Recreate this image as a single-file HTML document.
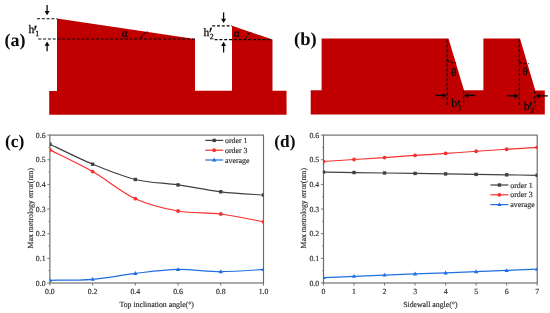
<!DOCTYPE html>
<html><head><meta charset="utf-8"><title>figure</title>
<style>
html,body{margin:0;padding:0;background:#fff;}
body{width:550px;height:313px;overflow:hidden;font-family:"Liberation Serif",serif;}
svg{display:block;font-family:"Liberation Serif",serif;text-rendering:geometricPrecision;}
</style></head><body>
<svg width="550" height="313" viewBox="0 0 550 313">
<rect x="0" y="0" width="550" height="313" fill="#ffffff"/>

<polygon fill="#c00000" points="57,18.4 195,39 195,90.7 232,90.7 232,25.8 272.5,39.5 272.5,90.7 286.5,90.7 286.6,114.7 49.2,114.7 49.2,91.1 57,91.1"/>
<polygon fill="#c00000" points="321.6,38.5 448.5,38.5 464,90.2 483.4,90.2 483.4,38.5 520,38.5 535.3,90.5 544.8,90.5 544.8,114.5 310.7,114.5 310.7,90.2 321.6,90.2"/>
<line x1="37" y1="18.7" x2="57" y2="18.7" stroke="#0a0a0a" stroke-width="1.15" stroke-dasharray="3,1.8" fill="none"/>
<line x1="38.3" y1="39" x2="195" y2="39" stroke="#0a0a0a" stroke-width="1.15" stroke-dasharray="3,1.8" fill="none"/>
<line x1="212.2" y1="25.8" x2="232" y2="25.8" stroke="#0a0a0a" stroke-width="1.15" stroke-dasharray="3,1.8" fill="none"/>
<line x1="214.6" y1="39.6" x2="272" y2="39.6" stroke="#0a0a0a" stroke-width="1.15" stroke-dasharray="3,1.8" fill="none"/>
<line x1="47.1" y1="4.9" x2="47.1" y2="13.3" stroke="#0a0a0a" stroke-width="1.3"/><polygon fill="#0a0a0a" points="44.6,11.100000000000001 49.6,11.100000000000001 47.1,15.3"/>
<line x1="47.1" y1="51.2" x2="47.1" y2="43.6" stroke="#0a0a0a" stroke-width="1.3"/><polygon fill="#0a0a0a" points="44.6,45.800000000000004 49.6,45.800000000000004 47.1,41.6"/>
<line x1="223.6" y1="12.4" x2="223.6" y2="21" stroke="#0a0a0a" stroke-width="1.3"/><polygon fill="#0a0a0a" points="221.1,18.8 226.1,18.8 223.6,23"/>
<line x1="223.6" y1="52.5" x2="223.6" y2="43.8" stroke="#0a0a0a" stroke-width="1.3"/><polygon fill="#0a0a0a" points="221.1,46.0 226.1,46.0 223.6,41.8"/>
<text x="4.5" y="45.5" font-size="18" font-weight="bold" fill="#0a0a0a">(a)</text>
<text x="28.5" y="33.3" font-size="11.6" fill="#0a0a0a" stroke="#0a0a0a" stroke-width="0.25">h</text><text x="33.5" y="38.1" font-size="18.5" fill="#0a0a0a" stroke="#0a0a0a" stroke-width="0.25">′</text><text x="35.2" y="35.8" font-size="7.8" fill="#0a0a0a" stroke="#0a0a0a" stroke-width="0.25">1</text>
<text x="203.4" y="36.1" font-size="11.5" fill="#0a0a0a" stroke="#0a0a0a" stroke-width="0.25">h</text><text x="208.8" y="39.8" font-size="18.5" fill="#0a0a0a" stroke="#0a0a0a" stroke-width="0.25">′</text><text x="209.7" y="39.4" font-size="7.8" fill="#0a0a0a" stroke="#0a0a0a" stroke-width="0.25">2</text>
<text x="121.7" y="36.5" font-size="11.5" fill="#0a0a0a" stroke="#0a0a0a" stroke-width="0.25">α</text>
<text x="233.7" y="36.9" font-size="11.5" fill="#0a0a0a" stroke="#0a0a0a" stroke-width="0.25">α</text>
<path d="M140.5,38.8 Q142.5,33.5 147.8,31.7" stroke="#0a0a0a" stroke-width="1.15" stroke-dasharray="3.6,1.2" fill="none"/>
<path d="M244.9,39.5 Q246.5,34.5 251.6,32.2" stroke="#0a0a0a" stroke-width="1.15" stroke-dasharray="3.6,1.2" fill="none"/>
<text x="294" y="45.4" font-size="18.5" font-weight="bold" fill="#0a0a0a">(b)</text>
<line x1="447.1" y1="39.5" x2="447.1" y2="106" stroke="#0a0a0a" stroke-width="1.15" stroke-dasharray="3,1.8" fill="none"/>
<line x1="463.7" y1="91" x2="463.7" y2="107" stroke="#0a0a0a" stroke-width="1.15" stroke-dasharray="3,1.8" fill="none"/>
<line x1="519.3" y1="39.5" x2="519.3" y2="106" stroke="#0a0a0a" stroke-width="1.15" stroke-dasharray="3,1.8" fill="none"/>
<line x1="534.8" y1="91" x2="534.8" y2="106.5" stroke="#0a0a0a" stroke-width="1.15" stroke-dasharray="3,1.8" fill="none"/>
<line x1="435.4" y1="95.4" x2="444.8" y2="95.4" stroke="#0a0a0a" stroke-width="1.3"/><polygon fill="#0a0a0a" points="442.6,92.9 442.6,97.9 446.8,95.4"/>
<line x1="475.4" y1="95.4" x2="466.3" y2="95.4" stroke="#0a0a0a" stroke-width="1.3"/><polygon fill="#0a0a0a" points="468.5,92.9 468.5,97.9 464.3,95.4"/>
<line x1="507.2" y1="95.9" x2="516.6" y2="95.9" stroke="#0a0a0a" stroke-width="1.3"/><polygon fill="#0a0a0a" points="514.4,93.4 514.4,98.4 518.6,95.9"/>
<line x1="547.8" y1="95.9" x2="537.6" y2="95.9" stroke="#0a0a0a" stroke-width="1.3"/><polygon fill="#0a0a0a" points="539.8000000000001,93.4 539.8000000000001,98.4 535.6,95.9"/>
<path d="M446.9,58.9 Q449,63.2 456.2,62.8" stroke="#0a0a0a" stroke-width="1.15" stroke-dasharray="3.6,1.2" fill="none"/>
<path d="M519,61.5 Q521.5,64.2 528.7,63.6" stroke="#0a0a0a" stroke-width="1.15" stroke-dasharray="3.6,1.2" fill="none"/>
<text x="451.3" y="75.8" font-size="11" fill="#0a0a0a" stroke="#0a0a0a" stroke-width="0.25">θ</text>
<text x="522.5" y="75.3" font-size="11" fill="#0a0a0a" stroke="#0a0a0a" stroke-width="0.25">θ</text>
<text x="451.3" y="107.4" font-size="12" fill="#0a0a0a" stroke="#0a0a0a" stroke-width="0.25">b</text><text x="456.9" y="112.3" font-size="18" fill="#0a0a0a" stroke="#0a0a0a" stroke-width="0.25">′</text><text x="457.8" y="110.3" font-size="7.8" fill="#0a0a0a" stroke="#0a0a0a" stroke-width="0.25">1</text>
<text x="523.7" y="109.5" font-size="12" fill="#0a0a0a" stroke="#0a0a0a" stroke-width="0.25">b</text><text x="529" y="114.4" font-size="18" fill="#0a0a0a" stroke="#0a0a0a" stroke-width="0.25">′</text><text x="530.5" y="112.6" font-size="7.8" fill="#0a0a0a" stroke="#0a0a0a" stroke-width="0.25">2</text>
<rect x="49.9" y="135.1" width="213.6" height="147.9" fill="none" stroke="#6a6a6a" stroke-width="1.15"/>
<line x1="47.3" y1="283.00" x2="49.9" y2="283.00" stroke="#6a6a6a" stroke-width="0.9"/>
<text x="45.6" y="285.70" font-size="7.8" text-anchor="end" fill="#2a2a2a" stroke="#2a2a2a" stroke-width="0.15">0.0</text>
<line x1="48.4" y1="270.68" x2="49.9" y2="270.68" stroke="#6a6a6a" stroke-width="0.7"/>
<line x1="47.3" y1="258.35" x2="49.9" y2="258.35" stroke="#6a6a6a" stroke-width="0.9"/>
<text x="45.6" y="261.05" font-size="7.8" text-anchor="end" fill="#2a2a2a" stroke="#2a2a2a" stroke-width="0.15">0.1</text>
<line x1="48.4" y1="246.02" x2="49.9" y2="246.02" stroke="#6a6a6a" stroke-width="0.7"/>
<line x1="47.3" y1="233.70" x2="49.9" y2="233.70" stroke="#6a6a6a" stroke-width="0.9"/>
<text x="45.6" y="236.40" font-size="7.8" text-anchor="end" fill="#2a2a2a" stroke="#2a2a2a" stroke-width="0.15">0.2</text>
<line x1="48.4" y1="221.38" x2="49.9" y2="221.38" stroke="#6a6a6a" stroke-width="0.7"/>
<line x1="47.3" y1="209.05" x2="49.9" y2="209.05" stroke="#6a6a6a" stroke-width="0.9"/>
<text x="45.6" y="211.75" font-size="7.8" text-anchor="end" fill="#2a2a2a" stroke="#2a2a2a" stroke-width="0.15">0.3</text>
<line x1="48.4" y1="196.72" x2="49.9" y2="196.72" stroke="#6a6a6a" stroke-width="0.7"/>
<line x1="47.3" y1="184.40" x2="49.9" y2="184.40" stroke="#6a6a6a" stroke-width="0.9"/>
<text x="45.6" y="187.10" font-size="7.8" text-anchor="end" fill="#2a2a2a" stroke="#2a2a2a" stroke-width="0.15">0.4</text>
<line x1="48.4" y1="172.07" x2="49.9" y2="172.07" stroke="#6a6a6a" stroke-width="0.7"/>
<line x1="47.3" y1="159.75" x2="49.9" y2="159.75" stroke="#6a6a6a" stroke-width="0.9"/>
<text x="45.6" y="162.45" font-size="7.8" text-anchor="end" fill="#2a2a2a" stroke="#2a2a2a" stroke-width="0.15">0.5</text>
<line x1="48.4" y1="147.42" x2="49.9" y2="147.42" stroke="#6a6a6a" stroke-width="0.7"/>
<line x1="47.3" y1="135.10" x2="49.9" y2="135.10" stroke="#6a6a6a" stroke-width="0.9"/>
<text x="45.6" y="137.80" font-size="7.8" text-anchor="end" fill="#2a2a2a" stroke="#2a2a2a" stroke-width="0.15">0.6</text>
<line x1="49.90" y1="283" x2="49.90" y2="285.6" stroke="#6a6a6a" stroke-width="0.9"/>
<text x="49.90" y="293.5" font-size="7.8" text-anchor="middle" fill="#2a2a2a" stroke="#2a2a2a" stroke-width="0.15">0.0</text>
<line x1="92.62" y1="283" x2="92.62" y2="285.6" stroke="#6a6a6a" stroke-width="0.9"/>
<text x="92.62" y="293.5" font-size="7.8" text-anchor="middle" fill="#2a2a2a" stroke="#2a2a2a" stroke-width="0.15">0.2</text>
<line x1="135.34" y1="283" x2="135.34" y2="285.6" stroke="#6a6a6a" stroke-width="0.9"/>
<text x="135.34" y="293.5" font-size="7.8" text-anchor="middle" fill="#2a2a2a" stroke="#2a2a2a" stroke-width="0.15">0.4</text>
<line x1="178.06" y1="283" x2="178.06" y2="285.6" stroke="#6a6a6a" stroke-width="0.9"/>
<text x="178.06" y="293.5" font-size="7.8" text-anchor="middle" fill="#2a2a2a" stroke="#2a2a2a" stroke-width="0.15">0.6</text>
<line x1="220.78" y1="283" x2="220.78" y2="285.6" stroke="#6a6a6a" stroke-width="0.9"/>
<text x="220.78" y="293.5" font-size="7.8" text-anchor="middle" fill="#2a2a2a" stroke="#2a2a2a" stroke-width="0.15">0.8</text>
<line x1="263.50" y1="283" x2="263.50" y2="285.6" stroke="#6a6a6a" stroke-width="0.9"/>
<text x="263.50" y="293.5" font-size="7.8" text-anchor="middle" fill="#2a2a2a" stroke="#2a2a2a" stroke-width="0.15">1.0</text>
<text x="156.7" y="306.6" font-size="7.8" text-anchor="middle" fill="#2a2a2a" stroke="#2a2a2a" stroke-width="0.15">Top inclination angle(°)</text>
<text transform="translate(32.5,208.25) rotate(-90)" font-size="7.8" text-anchor="middle" fill="#2a2a2a" stroke="#2a2a2a" stroke-width="0.15">Max metrology error(nm)</text>
<clipPath id="clipc"><rect x="49.9" y="135.1" width="213.6" height="147.9"/></clipPath><g clip-path="url(#clipc)">
<path d="M49.90,144.22 C57.02,147.55 78.38,158.31 92.62,164.19 C106.86,170.06 121.10,176.02 135.34,179.47 C149.58,182.92 163.82,182.84 178.06,184.89 C192.30,186.95 206.54,190.11 220.78,191.79 C235.02,193.48 256.38,194.47 263.50,195.00" fill="none" stroke="#404040" stroke-width="1.2"/>
<rect x="48.20" y="142.52" width="3.4" height="3.4" fill="#404040"/>
<rect x="90.92" y="162.49" width="3.4" height="3.4" fill="#404040"/>
<rect x="133.64" y="177.77" width="3.4" height="3.4" fill="#404040"/>
<rect x="176.36" y="183.19" width="3.4" height="3.4" fill="#404040"/>
<rect x="219.08" y="190.09" width="3.4" height="3.4" fill="#404040"/>
<rect x="261.80" y="193.30" width="3.4" height="3.4" fill="#404040"/>
<path d="M49.90,149.89 C57.02,153.51 78.38,163.45 92.62,171.58 C106.86,179.72 121.10,192.12 135.34,198.70 C149.58,205.27 163.82,208.47 178.06,211.02 C192.30,213.57 206.54,212.17 220.78,213.98 C235.02,215.79 256.38,220.55 263.50,221.87" fill="none" stroke="#f83030" stroke-width="1.2"/>
<circle cx="49.90" cy="149.89" r="1.9" fill="#f83030"/>
<circle cx="92.62" cy="171.58" r="1.9" fill="#f83030"/>
<circle cx="135.34" cy="198.70" r="1.9" fill="#f83030"/>
<circle cx="178.06" cy="211.02" r="1.9" fill="#f83030"/>
<circle cx="220.78" cy="213.98" r="1.9" fill="#f83030"/>
<circle cx="263.50" cy="221.87" r="1.9" fill="#f83030"/>
<path d="M49.90,280.29 C57.02,280.12 78.38,280.45 92.62,279.30 C106.86,278.15 121.10,275.03 135.34,273.39 C149.58,271.74 163.82,269.73 178.06,269.44 C192.30,269.15 206.54,271.66 220.78,271.66 C235.02,271.66 256.38,269.81 263.50,269.44" fill="none" stroke="#1f6fe0" stroke-width="1.2"/>
<polygon points="47.70,281.79 52.10,281.79 49.90,277.99" fill="#1f6fe0"/>
<polygon points="90.42,280.80 94.82,280.80 92.62,277.00" fill="#1f6fe0"/>
<polygon points="133.14,274.89 137.54,274.89 135.34,271.09" fill="#1f6fe0"/>
<polygon points="175.86,270.94 180.26,270.94 178.06,267.14" fill="#1f6fe0"/>
<polygon points="218.58,273.16 222.98,273.16 220.78,269.36" fill="#1f6fe0"/>
<polygon points="261.30,270.94 265.70,270.94 263.50,267.14" fill="#1f6fe0"/>
</g>
<line x1="205.2" y1="140.4" x2="223.2" y2="140.4" stroke="#404040" stroke-width="1.2"/>
<rect x="212.50" y="138.70" width="3.4" height="3.4" fill="#404040"/>
<text x="225.0" y="143.0" font-size="7.9" fill="#2a2a2a" stroke="#2a2a2a" stroke-width="0.15">order 1</text>
<line x1="205.2" y1="150.20000000000002" x2="223.2" y2="150.20000000000002" stroke="#f83030" stroke-width="1.2"/>
<circle cx="214.20" cy="150.20" r="1.9" fill="#f83030"/>
<text x="225.0" y="152.8" font-size="7.9" fill="#2a2a2a" stroke="#2a2a2a" stroke-width="0.15">order 3</text>
<line x1="205.2" y1="160.0" x2="223.2" y2="160.0" stroke="#1f6fe0" stroke-width="1.2"/>
<polygon points="212.00,161.50 216.40,161.50 214.20,157.70" fill="#1f6fe0"/>
<text x="225.0" y="162.6" font-size="7.9" fill="#2a2a2a" stroke="#2a2a2a" stroke-width="0.15">average</text>
<text x="4.9" y="146.8" font-size="17.5" font-weight="bold" fill="#0a0a0a">(c)</text>
<rect x="323.5" y="135.1" width="213.70000000000005" height="147.9" fill="none" stroke="#6a6a6a" stroke-width="1.15"/>
<line x1="320.9" y1="283.00" x2="323.5" y2="283.00" stroke="#6a6a6a" stroke-width="0.9"/>
<text x="319.2" y="285.70" font-size="7.8" text-anchor="end" fill="#2a2a2a" stroke="#2a2a2a" stroke-width="0.15">0.0</text>
<line x1="322.0" y1="270.68" x2="323.5" y2="270.68" stroke="#6a6a6a" stroke-width="0.7"/>
<line x1="320.9" y1="258.35" x2="323.5" y2="258.35" stroke="#6a6a6a" stroke-width="0.9"/>
<text x="319.2" y="261.05" font-size="7.8" text-anchor="end" fill="#2a2a2a" stroke="#2a2a2a" stroke-width="0.15">0.1</text>
<line x1="322.0" y1="246.02" x2="323.5" y2="246.02" stroke="#6a6a6a" stroke-width="0.7"/>
<line x1="320.9" y1="233.70" x2="323.5" y2="233.70" stroke="#6a6a6a" stroke-width="0.9"/>
<text x="319.2" y="236.40" font-size="7.8" text-anchor="end" fill="#2a2a2a" stroke="#2a2a2a" stroke-width="0.15">0.2</text>
<line x1="322.0" y1="221.38" x2="323.5" y2="221.38" stroke="#6a6a6a" stroke-width="0.7"/>
<line x1="320.9" y1="209.05" x2="323.5" y2="209.05" stroke="#6a6a6a" stroke-width="0.9"/>
<text x="319.2" y="211.75" font-size="7.8" text-anchor="end" fill="#2a2a2a" stroke="#2a2a2a" stroke-width="0.15">0.3</text>
<line x1="322.0" y1="196.72" x2="323.5" y2="196.72" stroke="#6a6a6a" stroke-width="0.7"/>
<line x1="320.9" y1="184.40" x2="323.5" y2="184.40" stroke="#6a6a6a" stroke-width="0.9"/>
<text x="319.2" y="187.10" font-size="7.8" text-anchor="end" fill="#2a2a2a" stroke="#2a2a2a" stroke-width="0.15">0.4</text>
<line x1="322.0" y1="172.07" x2="323.5" y2="172.07" stroke="#6a6a6a" stroke-width="0.7"/>
<line x1="320.9" y1="159.75" x2="323.5" y2="159.75" stroke="#6a6a6a" stroke-width="0.9"/>
<text x="319.2" y="162.45" font-size="7.8" text-anchor="end" fill="#2a2a2a" stroke="#2a2a2a" stroke-width="0.15">0.5</text>
<line x1="322.0" y1="147.42" x2="323.5" y2="147.42" stroke="#6a6a6a" stroke-width="0.7"/>
<line x1="320.9" y1="135.10" x2="323.5" y2="135.10" stroke="#6a6a6a" stroke-width="0.9"/>
<text x="319.2" y="137.80" font-size="7.8" text-anchor="end" fill="#2a2a2a" stroke="#2a2a2a" stroke-width="0.15">0.6</text>
<line x1="323.50" y1="283" x2="323.50" y2="285.6" stroke="#6a6a6a" stroke-width="0.9"/>
<text x="323.50" y="293.5" font-size="7.8" text-anchor="middle" fill="#2a2a2a" stroke="#2a2a2a" stroke-width="0.15">0</text>
<line x1="354.03" y1="283" x2="354.03" y2="285.6" stroke="#6a6a6a" stroke-width="0.9"/>
<text x="354.03" y="293.5" font-size="7.8" text-anchor="middle" fill="#2a2a2a" stroke="#2a2a2a" stroke-width="0.15">1</text>
<line x1="384.56" y1="283" x2="384.56" y2="285.6" stroke="#6a6a6a" stroke-width="0.9"/>
<text x="384.56" y="293.5" font-size="7.8" text-anchor="middle" fill="#2a2a2a" stroke="#2a2a2a" stroke-width="0.15">2</text>
<line x1="415.09" y1="283" x2="415.09" y2="285.6" stroke="#6a6a6a" stroke-width="0.9"/>
<text x="415.09" y="293.5" font-size="7.8" text-anchor="middle" fill="#2a2a2a" stroke="#2a2a2a" stroke-width="0.15">3</text>
<line x1="445.61" y1="283" x2="445.61" y2="285.6" stroke="#6a6a6a" stroke-width="0.9"/>
<text x="445.61" y="293.5" font-size="7.8" text-anchor="middle" fill="#2a2a2a" stroke="#2a2a2a" stroke-width="0.15">4</text>
<line x1="476.14" y1="283" x2="476.14" y2="285.6" stroke="#6a6a6a" stroke-width="0.9"/>
<text x="476.14" y="293.5" font-size="7.8" text-anchor="middle" fill="#2a2a2a" stroke="#2a2a2a" stroke-width="0.15">5</text>
<line x1="506.67" y1="283" x2="506.67" y2="285.6" stroke="#6a6a6a" stroke-width="0.9"/>
<text x="506.67" y="293.5" font-size="7.8" text-anchor="middle" fill="#2a2a2a" stroke="#2a2a2a" stroke-width="0.15">6</text>
<line x1="537.20" y1="283" x2="537.20" y2="285.6" stroke="#6a6a6a" stroke-width="0.9"/>
<text x="537.20" y="293.5" font-size="7.8" text-anchor="middle" fill="#2a2a2a" stroke="#2a2a2a" stroke-width="0.15">7</text>
<text x="430.35" y="306.6" font-size="7.8" text-anchor="middle" fill="#2a2a2a" stroke="#2a2a2a" stroke-width="0.15">Sidewall angle(°)</text>
<text transform="translate(306.1,208.25) rotate(-90)" font-size="7.8" text-anchor="middle" fill="#2a2a2a" stroke="#2a2a2a" stroke-width="0.15">Max metrology error(nm)</text>
<clipPath id="clipd"><rect x="323.5" y="135.1" width="213.70000000000005" height="147.9"/></clipPath><g clip-path="url(#clipd)">
<path d="M323.50,172.07 C328.59,172.15 343.85,172.38 354.03,172.53 C364.20,172.69 374.38,172.84 384.56,172.99 C394.73,173.14 404.91,173.30 415.09,173.45 C425.26,173.60 435.44,173.75 445.61,173.91 C455.79,174.06 465.97,174.21 476.14,174.36 C486.32,174.52 496.50,174.67 506.67,174.82 C516.85,174.97 532.11,175.20 537.20,175.28" fill="none" stroke="#404040" stroke-width="1.2"/>
<rect x="321.80" y="170.38" width="3.4" height="3.4" fill="#404040"/>
<rect x="352.33" y="170.83" width="3.4" height="3.4" fill="#404040"/>
<rect x="382.86" y="171.29" width="3.4" height="3.4" fill="#404040"/>
<rect x="413.39" y="171.75" width="3.4" height="3.4" fill="#404040"/>
<rect x="443.91" y="172.21" width="3.4" height="3.4" fill="#404040"/>
<rect x="474.44" y="172.66" width="3.4" height="3.4" fill="#404040"/>
<rect x="504.97" y="173.12" width="3.4" height="3.4" fill="#404040"/>
<rect x="535.50" y="173.58" width="3.4" height="3.4" fill="#404040"/>
<path d="M323.50,161.48 C328.59,161.15 343.85,160.16 354.03,159.50 C364.20,158.85 374.38,158.21 384.56,157.53 C394.73,156.85 404.91,156.11 415.09,155.44 C425.26,154.76 435.44,154.16 445.61,153.46 C455.79,152.77 465.97,151.94 476.14,151.25 C486.32,150.55 496.50,149.93 506.67,149.27 C516.85,148.62 532.11,147.63 537.20,147.30" fill="none" stroke="#f83030" stroke-width="1.2"/>
<circle cx="323.50" cy="161.48" r="1.9" fill="#f83030"/>
<circle cx="354.03" cy="159.50" r="1.9" fill="#f83030"/>
<circle cx="384.56" cy="157.53" r="1.9" fill="#f83030"/>
<circle cx="415.09" cy="155.44" r="1.9" fill="#f83030"/>
<circle cx="445.61" cy="153.46" r="1.9" fill="#f83030"/>
<circle cx="476.14" cy="151.25" r="1.9" fill="#f83030"/>
<circle cx="506.67" cy="149.27" r="1.9" fill="#f83030"/>
<circle cx="537.20" cy="147.30" r="1.9" fill="#f83030"/>
<path d="M323.50,277.58 C328.59,277.37 343.85,276.76 354.03,276.34 C364.20,275.93 374.38,275.52 384.56,275.11 C394.73,274.70 404.91,274.25 415.09,273.88 C425.26,273.51 435.44,273.26 445.61,272.89 C455.79,272.52 465.97,272.07 476.14,271.66 C486.32,271.25 496.50,270.84 506.67,270.43 C516.85,270.02 532.11,269.40 537.20,269.20" fill="none" stroke="#1f6fe0" stroke-width="1.2"/>
<polygon points="321.30,279.08 325.70,279.08 323.50,275.28" fill="#1f6fe0"/>
<polygon points="351.83,277.84 356.23,277.84 354.03,274.04" fill="#1f6fe0"/>
<polygon points="382.36,276.61 386.76,276.61 384.56,272.81" fill="#1f6fe0"/>
<polygon points="412.89,275.38 417.29,275.38 415.09,271.58" fill="#1f6fe0"/>
<polygon points="443.41,274.39 447.81,274.39 445.61,270.59" fill="#1f6fe0"/>
<polygon points="473.94,273.16 478.34,273.16 476.14,269.36" fill="#1f6fe0"/>
<polygon points="504.47,271.93 508.87,271.93 506.67,268.13" fill="#1f6fe0"/>
<polygon points="535.00,270.70 539.40,270.70 537.20,266.90" fill="#1f6fe0"/>
</g>
<line x1="490.4" y1="185.0" x2="508.4" y2="185.0" stroke="#404040" stroke-width="1.2"/>
<rect x="497.70" y="183.30" width="3.4" height="3.4" fill="#404040"/>
<text x="510.2" y="187.6" font-size="7.9" fill="#2a2a2a" stroke="#2a2a2a" stroke-width="0.15">order 1</text>
<line x1="490.4" y1="194.8" x2="508.4" y2="194.8" stroke="#f83030" stroke-width="1.2"/>
<circle cx="499.40" cy="194.80" r="1.9" fill="#f83030"/>
<text x="510.2" y="197.4" font-size="7.9" fill="#2a2a2a" stroke="#2a2a2a" stroke-width="0.15">order 3</text>
<line x1="490.4" y1="204.6" x2="508.4" y2="204.6" stroke="#1f6fe0" stroke-width="1.2"/>
<polygon points="497.20,206.10 501.60,206.10 499.40,202.30" fill="#1f6fe0"/>
<text x="510.2" y="207.2" font-size="7.9" fill="#2a2a2a" stroke="#2a2a2a" stroke-width="0.15">average</text>
<text x="274.3" y="146.8" font-size="17.3" font-weight="bold" fill="#0a0a0a">(d)</text>
</svg></body></html>
